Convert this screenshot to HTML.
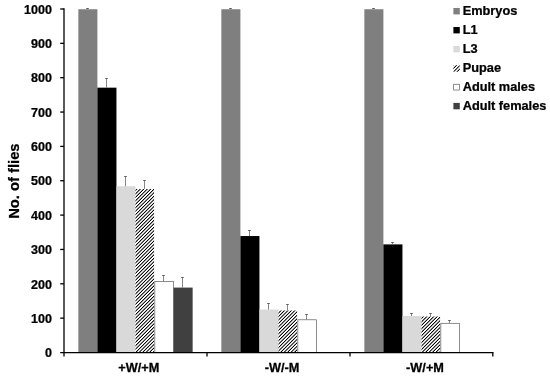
<!DOCTYPE html>
<html><head><meta charset="utf-8"><title>chart</title>
<style>
html,body{margin:0;padding:0;background:#fff;}
svg{display:block}
text{font-family:"Liberation Sans",sans-serif;font-weight:bold;fill:#000;stroke:#000;stroke-width:0.25px}
</style></head><body>
<svg width="550" height="376" viewBox="0 0 550 376">
<rect width="550" height="376" fill="#fff"/>

<rect x="78.35" y="9.24" width="19.05" height="343.26" fill="#7f7f7f"/>
<path d="M87.50,9.24 V8.30" stroke="#707070" stroke-width="0.85" fill="none"/><path d="M86.15,8.50 H88.85" stroke="#505050" stroke-width="0.85" fill="none"/>
<rect x="97.40" y="87.66" width="19.05" height="264.84" fill="#000"/>
<path d="M106.50,87.66 V78.30" stroke="#707070" stroke-width="0.85" fill="none"/><path d="M105.15,78.50 H107.85" stroke="#505050" stroke-width="0.85" fill="none"/>
<rect x="116.45" y="186.25" width="19.05" height="166.25" fill="#d9d9d9"/>
<path d="M125.50,186.25 V176.30" stroke="#707070" stroke-width="0.85" fill="none"/><path d="M124.15,176.50 H126.85" stroke="#505050" stroke-width="0.85" fill="none"/>
<clipPath id="c1"><rect x="135.50" y="188.99" width="18.60" height="163.51"/></clipPath>
<g clip-path="url(#c1)" shape-rendering="crispEdges">
<rect x="134.50" y="187.99" width="20.60" height="165.51" fill="#fff"/>
<path d="M134,191.5 L156,169.5 L156,170.5 L134,192.5ZM134,198.5 L156,176.5 L156,177.5 L134,199.5ZM134,215.5 L156,193.5 L156,194.5 L134,216.5ZM134,222.5 L156,200.5 L156,201.5 L134,223.5ZM134,229.5 L156,207.5 L156,208.5 L134,230.5ZM134,246.5 L156,224.5 L156,225.5 L134,247.5ZM134,253.5 L156,231.5 L156,232.5 L134,254.5ZM134,260.5 L156,238.5 L156,239.5 L134,261.5ZM134,267.5 L156,245.5 L156,246.5 L134,268.5ZM134,284.5 L156,262.5 L156,263.5 L134,285.5ZM134,291.5 L156,269.5 L156,270.5 L134,292.5ZM134,298.5 L156,276.5 L156,277.5 L134,299.5ZM134,315.5 L156,293.5 L156,294.5 L134,316.5ZM134,322.5 L156,300.5 L156,301.5 L134,323.5ZM134,329.5 L156,307.5 L156,308.5 L134,330.5ZM134,336.5 L156,314.5 L156,315.5 L134,337.5ZM134,353.5 L156,331.5 L156,332.5 L134,354.5ZM134,360.5 L156,338.5 L156,339.5 L134,361.5ZM134,367.5 L156,345.5 L156,346.5 L134,368.5Z" fill="#000000"/>
<path d="M134,208.5 L156,186.5 L156,187.5 L134,209.5ZM134,236.5 L156,214.5 L156,215.5 L134,237.5ZM134,277.5 L156,255.5 L156,256.5 L134,278.5ZM134,305.5 L156,283.5 L156,284.5 L134,306.5ZM134,346.5 L156,324.5 L156,325.5 L134,347.5Z" fill="#060606"/>
<path d="M134,205.5 L156,183.5 L156,184.5 L134,206.5ZM134,239.5 L156,217.5 L156,218.5 L134,240.5ZM134,274.5 L156,252.5 L156,253.5 L134,275.5ZM134,308.5 L156,286.5 L156,287.5 L134,309.5ZM134,343.5 L156,321.5 L156,322.5 L134,344.5Z" fill="#131313"/>
<path d="M134,201.5 L156,179.5 L156,180.5 L134,202.5ZM134,243.5 L156,221.5 L156,222.5 L134,244.5ZM134,270.5 L156,248.5 L156,249.5 L134,271.5ZM134,312.5 L156,290.5 L156,291.5 L134,313.5ZM134,339.5 L156,317.5 L156,318.5 L134,340.5Z" fill="#202020"/>
<path d="M134,212.5 L156,190.5 L156,191.5 L134,213.5ZM134,232.5 L156,210.5 L156,211.5 L134,233.5ZM134,281.5 L156,259.5 L156,260.5 L134,282.5ZM134,301.5 L156,279.5 L156,280.5 L134,302.5ZM134,350.5 L156,328.5 L156,329.5 L134,351.5ZM134,370.5 L156,348.5 L156,349.5 L134,371.5Z" fill="#2d2d2d"/>
<path d="M134,194.5 L156,172.5 L156,173.5 L134,195.5ZM134,250.5 L156,228.5 L156,229.5 L134,251.5ZM134,263.5 L156,241.5 L156,242.5 L134,264.5ZM134,319.5 L156,297.5 L156,298.5 L134,320.5ZM134,332.5 L156,310.5 L156,311.5 L134,333.5Z" fill="#393939"/>
<path d="M134,219.5 L156,197.5 L156,198.5 L134,220.5ZM134,225.5 L156,203.5 L156,204.5 L134,226.5ZM134,288.5 L156,266.5 L156,267.5 L134,289.5ZM134,294.5 L156,272.5 L156,273.5 L134,295.5ZM134,357.5 L156,335.5 L156,336.5 L134,358.5ZM134,363.5 L156,341.5 L156,342.5 L134,364.5Z" fill="#464646"/>
<path d="M134,188.5 L156,166.5 L156,167.5 L134,189.5ZM134,256.5 L156,234.5 L156,235.5 L134,257.5ZM134,257.5 L156,235.5 L156,236.5 L134,258.5ZM134,325.5 L156,303.5 L156,304.5 L134,326.5ZM134,326.5 L156,304.5 L156,305.5 L134,327.5Z" fill="#535353"/>
<path d="M134,218.5 L156,196.5 L156,197.5 L134,219.5ZM134,226.5 L156,204.5 L156,205.5 L134,227.5ZM134,287.5 L156,265.5 L156,266.5 L134,288.5ZM134,295.5 L156,273.5 L156,274.5 L134,296.5ZM134,356.5 L156,334.5 L156,335.5 L134,357.5ZM134,364.5 L156,342.5 L156,343.5 L134,365.5Z" fill="#606060"/>
<path d="M134,195.5 L156,173.5 L156,174.5 L134,196.5ZM134,249.5 L156,227.5 L156,228.5 L134,250.5ZM134,264.5 L156,242.5 L156,243.5 L134,265.5ZM134,318.5 L156,296.5 L156,297.5 L134,319.5ZM134,333.5 L156,311.5 L156,312.5 L134,334.5Z" fill="#6c6c6c"/>
<path d="M134,211.5 L156,189.5 L156,190.5 L134,212.5ZM134,233.5 L156,211.5 L156,212.5 L134,234.5ZM134,280.5 L156,258.5 L156,259.5 L134,281.5ZM134,302.5 L156,280.5 L156,281.5 L134,303.5ZM134,349.5 L156,327.5 L156,328.5 L134,350.5ZM134,371.5 L156,349.5 L156,350.5 L134,372.5Z" fill="#797979"/>
<path d="M134,202.5 L156,180.5 L156,181.5 L134,203.5ZM134,242.5 L156,220.5 L156,221.5 L134,243.5ZM134,271.5 L156,249.5 L156,250.5 L134,272.5ZM134,311.5 L156,289.5 L156,290.5 L134,312.5ZM134,340.5 L156,318.5 L156,319.5 L134,341.5Z" fill="#868686"/>
<path d="M134,204.5 L156,182.5 L156,183.5 L134,205.5ZM134,240.5 L156,218.5 L156,219.5 L134,241.5ZM134,273.5 L156,251.5 L156,252.5 L134,274.5ZM134,309.5 L156,287.5 L156,288.5 L134,310.5ZM134,342.5 L156,320.5 L156,321.5 L134,343.5Z" fill="#939393"/>
<path d="M134,209.5 L156,187.5 L156,188.5 L134,210.5ZM134,235.5 L156,213.5 L156,214.5 L134,236.5ZM134,278.5 L156,256.5 L156,257.5 L134,279.5ZM134,304.5 L156,282.5 L156,283.5 L134,305.5ZM134,347.5 L156,325.5 L156,326.5 L134,348.5ZM134,373.5 L156,351.5 L156,352.5 L134,374.5Z" fill="#9f9f9f"/>
<path d="M134,197.5 L156,175.5 L156,176.5 L134,198.5ZM134,247.5 L156,225.5 L156,226.5 L134,248.5ZM134,266.5 L156,244.5 L156,245.5 L134,267.5ZM134,316.5 L156,294.5 L156,295.5 L134,317.5ZM134,335.5 L156,313.5 L156,314.5 L134,336.5Z" fill="#acacac"/>
<path d="M134,216.5 L156,194.5 L156,195.5 L134,217.5ZM134,228.5 L156,206.5 L156,207.5 L134,229.5ZM134,285.5 L156,263.5 L156,264.5 L134,286.5ZM134,297.5 L156,275.5 L156,276.5 L134,298.5ZM134,354.5 L156,332.5 L156,333.5 L134,355.5ZM134,366.5 L156,344.5 L156,345.5 L134,367.5Z" fill="#b9b9b9"/>
<path d="M134,190.5 L156,168.5 L156,169.5 L134,191.5ZM134,254.5 L156,232.5 L156,233.5 L134,255.5ZM134,259.5 L156,237.5 L156,238.5 L134,260.5ZM134,323.5 L156,301.5 L156,302.5 L134,324.5ZM134,328.5 L156,306.5 L156,307.5 L134,329.5Z" fill="#c6c6c6"/>
<path d="M134,221.5 L156,199.5 L156,200.5 L134,222.5ZM134,223.5 L156,201.5 L156,202.5 L134,224.5ZM134,290.5 L156,268.5 L156,269.5 L134,291.5ZM134,292.5 L156,270.5 L156,271.5 L134,293.5ZM134,359.5 L156,337.5 L156,338.5 L134,360.5ZM134,361.5 L156,339.5 L156,340.5 L134,362.5Z" fill="#d2d2d2"/>
<path d="M134,192.5 L156,170.5 L156,171.5 L134,193.5ZM134,252.5 L156,230.5 L156,231.5 L134,253.5ZM134,261.5 L156,239.5 L156,240.5 L134,262.5ZM134,321.5 L156,299.5 L156,300.5 L134,322.5ZM134,330.5 L156,308.5 L156,309.5 L134,331.5Z" fill="#dfdfdf"/>
<path d="M134,214.5 L156,192.5 L156,193.5 L134,215.5ZM134,230.5 L156,208.5 L156,209.5 L134,231.5ZM134,283.5 L156,261.5 L156,262.5 L134,284.5ZM134,299.5 L156,277.5 L156,278.5 L134,300.5ZM134,352.5 L156,330.5 L156,331.5 L134,353.5ZM134,368.5 L156,346.5 L156,347.5 L134,369.5Z" fill="#ececec"/>
<path d="M134,199.5 L156,177.5 L156,178.5 L134,200.5ZM134,245.5 L156,223.5 L156,224.5 L134,246.5ZM134,268.5 L156,246.5 L156,247.5 L134,269.5ZM134,314.5 L156,292.5 L156,293.5 L134,315.5ZM134,337.5 L156,315.5 L156,316.5 L134,338.5Z" fill="#f9f9f9"/>
</g>
<path d="M144.50,188.99 V180.30" stroke="#707070" stroke-width="0.85" fill="none"/><path d="M143.15,180.50 H145.85" stroke="#505050" stroke-width="0.85" fill="none"/>
<rect x="154.85" y="281.49" width="18.45" height="71.01" fill="#fff" stroke="#404040" stroke-width="0.6"/>
<path d="M163.50,281.19 V275.30" stroke="#707070" stroke-width="0.85" fill="none"/><path d="M162.15,275.50 H164.85" stroke="#505050" stroke-width="0.85" fill="none"/>
<rect x="173.60" y="287.58" width="19.05" height="64.92" fill="#404040"/>
<path d="M182.50,287.58 V277.30" stroke="#707070" stroke-width="0.85" fill="none"/><path d="M181.15,277.50 H183.85" stroke="#505050" stroke-width="0.85" fill="none"/>
<rect x="221.35" y="9.24" width="19.05" height="343.26" fill="#7f7f7f"/>
<path d="M230.50,9.24 V8.30" stroke="#707070" stroke-width="0.85" fill="none"/><path d="M229.15,8.50 H231.85" stroke="#505050" stroke-width="0.85" fill="none"/>
<rect x="240.40" y="236.05" width="19.05" height="116.45" fill="#000"/>
<path d="M249.50,236.05 V230.30" stroke="#707070" stroke-width="0.85" fill="none"/><path d="M248.15,230.50 H250.85" stroke="#505050" stroke-width="0.85" fill="none"/>
<rect x="259.45" y="309.56" width="19.05" height="42.94" fill="#d9d9d9"/>
<path d="M268.50,309.56 V303.30" stroke="#707070" stroke-width="0.85" fill="none"/><path d="M267.15,303.50 H269.85" stroke="#505050" stroke-width="0.85" fill="none"/>
<clipPath id="c2"><rect x="278.50" y="310.42" width="18.60" height="42.08"/></clipPath>
<g clip-path="url(#c2)" shape-rendering="crispEdges">
<rect x="277.50" y="309.42" width="20.60" height="44.08" fill="#fff"/>
<path d="M277,310.5 L299,288.5 L299,289.5 L277,311.5ZM277,317.5 L299,295.5 L299,296.5 L277,318.5ZM277,324.5 L299,302.5 L299,303.5 L277,325.5ZM277,331.5 L299,309.5 L299,310.5 L277,332.5ZM277,348.5 L299,326.5 L299,327.5 L277,349.5ZM277,355.5 L299,333.5 L299,334.5 L277,356.5ZM277,362.5 L299,340.5 L299,341.5 L277,363.5Z" fill="#000000"/>
<path d="M277,341.5 L299,319.5 L299,320.5 L277,342.5ZM277,369.5 L299,347.5 L299,348.5 L277,370.5Z" fill="#060606"/>
<path d="M277,338.5 L299,316.5 L299,317.5 L277,339.5ZM277,372.5 L299,350.5 L299,351.5 L277,373.5Z" fill="#131313"/>
<path d="M277,334.5 L299,312.5 L299,313.5 L277,335.5Z" fill="#202020"/>
<path d="M277,345.5 L299,323.5 L299,324.5 L277,346.5ZM277,365.5 L299,343.5 L299,344.5 L277,366.5Z" fill="#2d2d2d"/>
<path d="M277,314.5 L299,292.5 L299,293.5 L277,315.5ZM277,327.5 L299,305.5 L299,306.5 L277,328.5Z" fill="#393939"/>
<path d="M277,352.5 L299,330.5 L299,331.5 L277,353.5ZM277,358.5 L299,336.5 L299,337.5 L277,359.5Z" fill="#464646"/>
<path d="M277,320.5 L299,298.5 L299,299.5 L277,321.5ZM277,321.5 L299,299.5 L299,300.5 L277,322.5Z" fill="#535353"/>
<path d="M277,351.5 L299,329.5 L299,330.5 L277,352.5ZM277,359.5 L299,337.5 L299,338.5 L277,360.5Z" fill="#606060"/>
<path d="M277,313.5 L299,291.5 L299,292.5 L277,314.5ZM277,328.5 L299,306.5 L299,307.5 L277,329.5Z" fill="#6c6c6c"/>
<path d="M277,344.5 L299,322.5 L299,323.5 L277,345.5ZM277,366.5 L299,344.5 L299,345.5 L277,367.5Z" fill="#797979"/>
<path d="M277,335.5 L299,313.5 L299,314.5 L277,336.5Z" fill="#868686"/>
<path d="M277,337.5 L299,315.5 L299,316.5 L277,338.5ZM277,373.5 L299,351.5 L299,352.5 L277,374.5Z" fill="#939393"/>
<path d="M277,342.5 L299,320.5 L299,321.5 L277,343.5ZM277,368.5 L299,346.5 L299,347.5 L277,369.5Z" fill="#9f9f9f"/>
<path d="M277,311.5 L299,289.5 L299,290.5 L277,312.5ZM277,330.5 L299,308.5 L299,309.5 L277,331.5Z" fill="#acacac"/>
<path d="M277,349.5 L299,327.5 L299,328.5 L277,350.5ZM277,361.5 L299,339.5 L299,340.5 L277,362.5Z" fill="#b9b9b9"/>
<path d="M277,318.5 L299,296.5 L299,297.5 L277,319.5ZM277,323.5 L299,301.5 L299,302.5 L277,324.5Z" fill="#c6c6c6"/>
<path d="M277,354.5 L299,332.5 L299,333.5 L277,355.5ZM277,356.5 L299,334.5 L299,335.5 L277,357.5Z" fill="#d2d2d2"/>
<path d="M277,316.5 L299,294.5 L299,295.5 L277,317.5ZM277,325.5 L299,303.5 L299,304.5 L277,326.5Z" fill="#dfdfdf"/>
<path d="M277,347.5 L299,325.5 L299,326.5 L277,348.5ZM277,363.5 L299,341.5 L299,342.5 L277,364.5Z" fill="#ececec"/>
<path d="M277,309.5 L299,287.5 L299,288.5 L277,310.5ZM277,332.5 L299,310.5 L299,311.5 L277,333.5Z" fill="#f9f9f9"/>
</g>
<path d="M287.50,310.42 V304.30" stroke="#707070" stroke-width="0.85" fill="none"/><path d="M286.15,304.50 H288.85" stroke="#505050" stroke-width="0.85" fill="none"/>
<rect x="297.85" y="319.82" width="18.45" height="32.68" fill="#fff" stroke="#404040" stroke-width="0.6"/>
<path d="M306.50,319.52 V314.30" stroke="#707070" stroke-width="0.85" fill="none"/><path d="M305.15,314.50 H307.85" stroke="#505050" stroke-width="0.85" fill="none"/>
<rect x="364.35" y="9.24" width="19.05" height="343.26" fill="#7f7f7f"/>
<path d="M373.50,9.24 V8.30" stroke="#707070" stroke-width="0.85" fill="none"/><path d="M372.15,8.50 H374.85" stroke="#505050" stroke-width="0.85" fill="none"/>
<rect x="383.40" y="244.40" width="19.05" height="108.10" fill="#000"/>
<path d="M392.50,244.40 V242.30" stroke="#707070" stroke-width="0.85" fill="none"/><path d="M391.15,242.50 H393.85" stroke="#505050" stroke-width="0.85" fill="none"/>
<rect x="402.45" y="315.92" width="19.05" height="36.58" fill="#d9d9d9"/>
<path d="M411.50,315.92 V313.30" stroke="#707070" stroke-width="0.85" fill="none"/><path d="M410.15,313.50 H412.85" stroke="#505050" stroke-width="0.85" fill="none"/>
<clipPath id="c3"><rect x="421.50" y="316.60" width="18.60" height="35.90"/></clipPath>
<g clip-path="url(#c3)" shape-rendering="crispEdges">
<rect x="420.50" y="315.60" width="20.60" height="37.90" fill="#fff"/>
<path d="M420,319.5 L442,297.5 L442,298.5 L420,320.5ZM420,326.5 L442,304.5 L442,305.5 L420,327.5ZM420,343.5 L442,321.5 L442,322.5 L420,344.5ZM420,350.5 L442,328.5 L442,329.5 L420,351.5ZM420,357.5 L442,335.5 L442,336.5 L420,358.5Z" fill="#000000"/>
<path d="M420,336.5 L442,314.5 L442,315.5 L420,337.5ZM420,364.5 L442,342.5 L442,343.5 L420,365.5Z" fill="#060606"/>
<path d="M420,333.5 L442,311.5 L442,312.5 L420,334.5ZM420,367.5 L442,345.5 L442,346.5 L420,368.5Z" fill="#131313"/>
<path d="M420,329.5 L442,307.5 L442,308.5 L420,330.5ZM420,371.5 L442,349.5 L442,350.5 L420,372.5Z" fill="#202020"/>
<path d="M420,340.5 L442,318.5 L442,319.5 L420,341.5ZM420,360.5 L442,338.5 L442,339.5 L420,361.5Z" fill="#2d2d2d"/>
<path d="M420,322.5 L442,300.5 L442,301.5 L420,323.5Z" fill="#393939"/>
<path d="M420,347.5 L442,325.5 L442,326.5 L420,348.5ZM420,353.5 L442,331.5 L442,332.5 L420,354.5Z" fill="#464646"/>
<path d="M420,316.5 L442,294.5 L442,295.5 L420,317.5Z" fill="#535353"/>
<path d="M420,346.5 L442,324.5 L442,325.5 L420,347.5ZM420,354.5 L442,332.5 L442,333.5 L420,355.5Z" fill="#606060"/>
<path d="M420,323.5 L442,301.5 L442,302.5 L420,324.5Z" fill="#6c6c6c"/>
<path d="M420,339.5 L442,317.5 L442,318.5 L420,340.5ZM420,361.5 L442,339.5 L442,340.5 L420,362.5Z" fill="#797979"/>
<path d="M420,330.5 L442,308.5 L442,309.5 L420,331.5ZM420,370.5 L442,348.5 L442,349.5 L420,371.5Z" fill="#868686"/>
<path d="M420,332.5 L442,310.5 L442,311.5 L420,333.5ZM420,368.5 L442,346.5 L442,347.5 L420,369.5Z" fill="#939393"/>
<path d="M420,337.5 L442,315.5 L442,316.5 L420,338.5ZM420,363.5 L442,341.5 L442,342.5 L420,364.5Z" fill="#9f9f9f"/>
<path d="M420,325.5 L442,303.5 L442,304.5 L420,326.5Z" fill="#acacac"/>
<path d="M420,344.5 L442,322.5 L442,323.5 L420,345.5ZM420,356.5 L442,334.5 L442,335.5 L420,357.5Z" fill="#b9b9b9"/>
<path d="M420,318.5 L442,296.5 L442,297.5 L420,319.5Z" fill="#c6c6c6"/>
<path d="M420,349.5 L442,327.5 L442,328.5 L420,350.5ZM420,351.5 L442,329.5 L442,330.5 L420,352.5Z" fill="#d2d2d2"/>
<path d="M420,320.5 L442,298.5 L442,299.5 L420,321.5Z" fill="#dfdfdf"/>
<path d="M420,342.5 L442,320.5 L442,321.5 L420,343.5ZM420,358.5 L442,336.5 L442,337.5 L420,359.5Z" fill="#ececec"/>
<path d="M420,327.5 L442,305.5 L442,306.5 L420,328.5ZM420,373.5 L442,351.5 L442,352.5 L420,374.5Z" fill="#f9f9f9"/>
</g>
<path d="M430.50,316.60 V313.30" stroke="#707070" stroke-width="0.85" fill="none"/><path d="M429.15,313.50 H431.85" stroke="#505050" stroke-width="0.85" fill="none"/>
<rect x="440.85" y="323.26" width="18.45" height="29.24" fill="#fff" stroke="#404040" stroke-width="0.6"/>
<path d="M449.50,322.96 V320.30" stroke="#707070" stroke-width="0.85" fill="none"/><path d="M448.15,320.50 H450.85" stroke="#505050" stroke-width="0.85" fill="none"/>
<path d="M64.0,8.3 V356.6" stroke="#000" stroke-width="1.3" fill="none"/>
<path d="M60.2,352.7 H493.5" stroke="#000" stroke-width="1.3" fill="none"/>
<text transform="translate(52,357.20) scale(1.045,1)" font-size="12" text-anchor="end">0</text>
<path d="M60.2,318.15 H64.0" stroke="#000" stroke-width="1.3"/>
<text transform="translate(52,322.85) scale(1.045,1)" font-size="12" text-anchor="end">100</text>
<path d="M60.2,283.80 H64.0" stroke="#000" stroke-width="1.3"/>
<text transform="translate(52,288.50) scale(1.045,1)" font-size="12" text-anchor="end">200</text>
<path d="M60.2,249.45 H64.0" stroke="#000" stroke-width="1.3"/>
<text transform="translate(52,254.15) scale(1.045,1)" font-size="12" text-anchor="end">300</text>
<path d="M60.2,215.10 H64.0" stroke="#000" stroke-width="1.3"/>
<text transform="translate(52,219.80) scale(1.045,1)" font-size="12" text-anchor="end">400</text>
<path d="M60.2,180.75 H64.0" stroke="#000" stroke-width="1.3"/>
<text transform="translate(52,185.45) scale(1.045,1)" font-size="12" text-anchor="end">500</text>
<path d="M60.2,146.40 H64.0" stroke="#000" stroke-width="1.3"/>
<text transform="translate(52,151.10) scale(1.045,1)" font-size="12" text-anchor="end">600</text>
<path d="M60.2,112.05 H64.0" stroke="#000" stroke-width="1.3"/>
<text transform="translate(52,116.75) scale(1.045,1)" font-size="12" text-anchor="end">700</text>
<path d="M60.2,77.70 H64.0" stroke="#000" stroke-width="1.3"/>
<text transform="translate(52,82.40) scale(1.045,1)" font-size="12" text-anchor="end">800</text>
<path d="M60.2,43.35 H64.0" stroke="#000" stroke-width="1.3"/>
<text transform="translate(52,48.05) scale(1.045,1)" font-size="12" text-anchor="end">900</text>
<path d="M60.2,9.00 H64.0" stroke="#000" stroke-width="1.3"/>
<text transform="translate(52,13.70) scale(1.045,1)" font-size="12" text-anchor="end">1000</text>
<path d="M207.0,352.5 V356.6" stroke="#000" stroke-width="1.3"/>
<path d="M350.0,352.5 V356.6" stroke="#000" stroke-width="1.3"/>
<path d="M492.8,352.5 V356.6" stroke="#000" stroke-width="1.3"/>
<text transform="translate(138.8,371.7) scale(1.062,1)" font-size="12" text-anchor="middle">+W/+M</text>
<text transform="translate(282,371.7) scale(1.062,1)" font-size="12" text-anchor="middle">-W/-M</text>
<text transform="translate(425,371.7) scale(1.062,1)" font-size="12" text-anchor="middle">-W/+M</text>
<text transform="translate(19.3,181.15) rotate(-90) scale(1.04,1)" font-size="14.2" text-anchor="middle">No. of flies</text>
<rect x="453.4" y="8.00" width="6.4" height="6.4" fill="#7f7f7f"/>
<text transform="translate(462.7,14.60) scale(1.065,1)" font-size="12">Embryos</text>
<rect x="453.4" y="26.98" width="6.4" height="6.4" fill="#000"/>
<text transform="translate(462.7,33.68) scale(1.065,1)" font-size="12">L1</text>
<rect x="453.4" y="45.96" width="6.4" height="6.4" fill="#d9d9d9"/>
<text transform="translate(462.7,52.76) scale(1.065,1)" font-size="12">L3</text>
<clipPath id="c4"><rect x="453.40" y="65.24" width="6.40" height="6.40"/></clipPath>
<g clip-path="url(#c4)" shape-rendering="crispEdges">
<rect x="452.40" y="64.24" width="8.40" height="8.40" fill="#fff"/>
<path d="M452,69.5 L461,60.5 L461,61.5 L452,70.5Z" fill="#000000"/>
<path d="M452,76.5 L461,67.5 L461,68.5 L452,77.5Z" fill="#050505"/>
<path d="M452,79.5 L461,70.5 L461,71.5 L452,80.5Z" fill="#242424"/>
<path d="M452,72.5 L461,63.5 L461,64.5 L452,73.5Z" fill="#383838"/>
<path d="M452,65.5 L461,56.5 L461,57.5 L452,66.5Z" fill="#4d4d4d"/>
<path d="M452,66.5 L461,57.5 L461,58.5 L452,67.5Z" fill="#666666"/>
<path d="M452,73.5 L461,64.5 L461,65.5 L452,74.5Z" fill="#7a7a7a"/>
<path d="M452,80.5 L461,71.5 L461,72.5 L452,81.5Z" fill="#8f8f8f"/>
<path d="M452,75.5 L461,66.5 L461,67.5 L452,76.5Z" fill="#adadad"/>
<path d="M452,68.5 L461,59.5 L461,60.5 L452,69.5Z" fill="#c2c2c2"/>
<path d="M452,70.5 L461,61.5 L461,62.5 L452,71.5Z" fill="#f0f0f0"/>
</g>
<text transform="translate(462.7,71.84) scale(1.065,1)" font-size="12">Pupae</text>
<rect x="453.7" y="84.22" width="5.800000000000001" height="5.800000000000001" fill="#fff" stroke="#404040" stroke-width="0.6"/>
<text transform="translate(462.7,90.92) scale(1.065,1)" font-size="12">Adult males</text>
<rect x="453.4" y="102.90" width="6.4" height="6.4" fill="#404040"/>
<text transform="translate(462.7,110.00) scale(1.065,1)" font-size="12">Adult females</text>
</svg>
</body></html>
